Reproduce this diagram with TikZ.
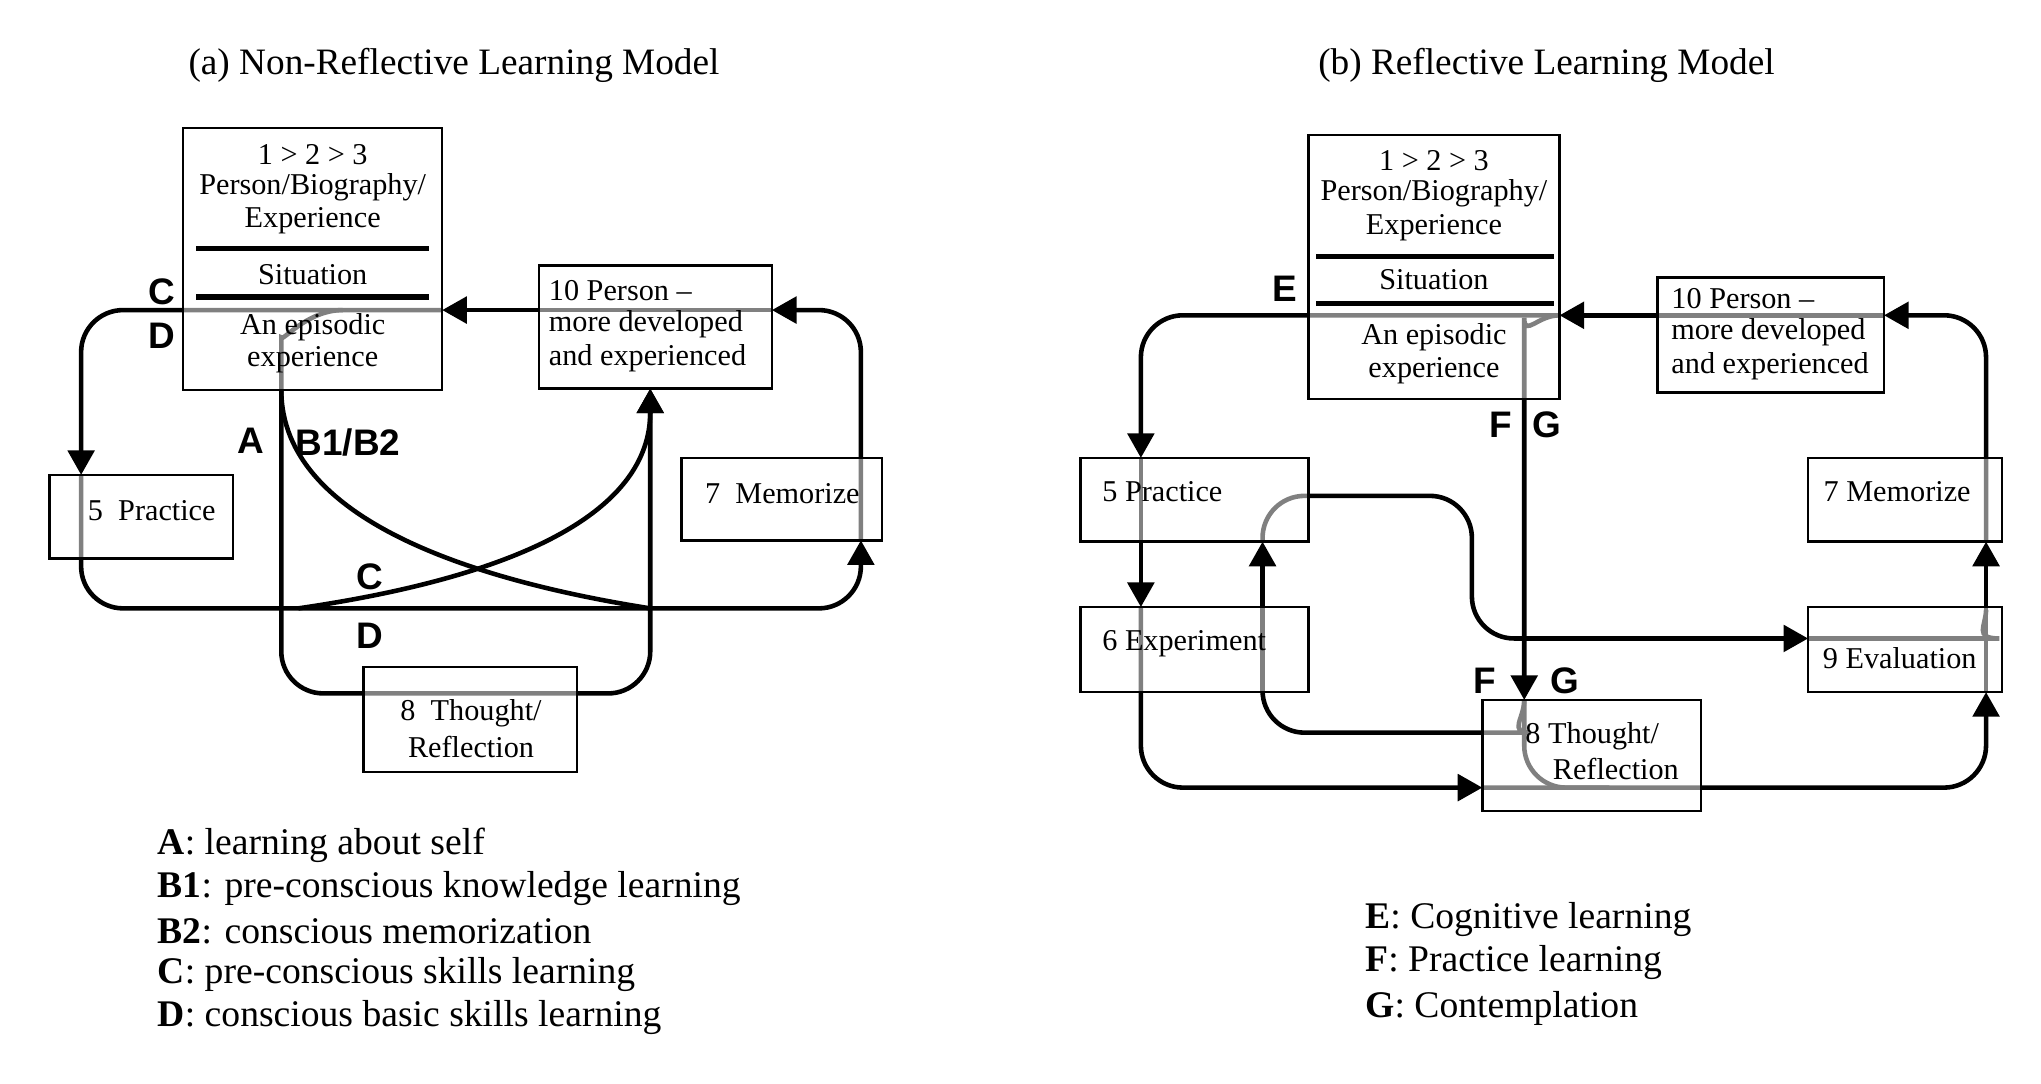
\documentclass[tikz,border=0pt]{standalone}
\usepackage{fontspec}
\setmainfont{Liberation Serif}
\newfontfamily\lab{Liberation Sans}
\usetikzlibrary{arrows.meta,fit}
\begin{document}
\begin{tikzpicture}[x=0.013083cm,y=-0.013083cm,
  box/.style={draw,line width=0.7pt,inner sep=0pt},
  bt/.style={font=\fontsize{8.6}{9.7}\selectfont,inner sep=0pt},
  lt/.style={font=\lab\bfseries\fontsize{10.5}{12}\selectfont,inner sep=0pt},
  leg/.style={font=\fontsize{10.7}{12.3}\selectfont,inner sep=0pt,anchor=west},
  con/.style={line width=1.3pt,rounded corners=0.42cm},
  tip/.style={-{Triangle[length=7pt,width=7.5pt]}}]
\useasboundingbox (0,0) rectangle (1560,828);
\def\boxes{(140,98) rectangle (338,298) (412,203) rectangle (590,297)
  (38,363) rectangle (178,427) (521,350) rectangle (674,413)
  (278,510) rectangle (441,590)
  (1000,103) rectangle (1192,305) (1267,212) rectangle (1440,300)
  (826,350) rectangle (1000,414) (826,464) rectangle (1000,529)
  (1382,350) rectangle (1530,414) (1382,464) rectangle (1530,529)
  (1133,535) rectangle (1300,620)}
\def\allpaths{
 % left
 \draw[con,tip] (590,237) -- (338,237);
 \draw[con,tip] (338,237) -- (62,237) -- (62,363);
 \draw[con,tip] (62,363) -- (62,465) -- (658,465) -- (658,413);
 \draw[con,tip] (658,413) -- (658,237) -- (590,237);
 \draw[con,tip] (262,237) to[out=180,in=90] (215,290) -- (215,530) -- (497,530) -- (497,297);
 \draw[con] (215,298) .. controls (215,400) and (370,445) .. (497,465);
 \draw[con,tip] (228,465) .. controls (400,440) and (497,390) .. (497,297);
 % right
 \draw[con,tip] (1440,241) -- (1192,241);
 \draw[con,tip] (1192,241) -- (872,241) -- (872,350);
 \draw[con,tip] (872,350) -- (872,464);
 \draw[con,tip] (872,464) -- (872,602) -- (1133,602);
 \draw[con,tip] (1133,602) -- (1518,602) -- (1518,529);
 \draw[con,tip] (1518,529) -- (1518,414);
 \draw[con,tip] (1518,414) -- (1518,241) -- (1440,241);
 \draw[con,tip] (1192,241) to[out=180,in=90] (1165,275) -- (1165,535);
 \draw[con,tip] (1165,535) to[out=-90,in=0] (1138,560) -- (965,560) -- (965,529);
 \draw[con,tip] (965,529) -- (965,414);
 \draw[con,tip] (965,414) -- (965,379) -- (1125,379) -- (1125,488) -- (1382,488);
 \draw[con] (1382,488) -- (1496,488) to[out=0,in=-90] (1518,466);
 \draw[con] (1165,535) -- (1165,602) -- (1230,602);
}
\allpaths
\fill[white] \boxes;
\begin{scope}
 \clip \boxes;
 \tikzset{tip/.style={},con/.append style={black!50}}
 \allpaths
\end{scope}
% boxes
\node[box,fit={(140,98) (338,298)}] (topL) {};
\node[box,fit={(412,203) (590,297)}] (tenL) {};
\node[box,fit={(38,363) (178,427)}] (fiveL) {};
\node[box,fit={(521,350) (674,413)}] (sevenL) {};
\node[box,fit={(278,510) (441,590)}] (eightL) {};
\node[box,fit={(1000,103) (1192,305)}] (topR) {};
\node[box,fit={(1267,212) (1440,300)}] (tenR) {};
\node[box,fit={(826,350) (1000,414)}] (fiveR) {};
\node[box,fit={(826,464) (1000,529)}] (sixR) {};
\node[box,fit={(1382,350) (1530,414)}] (sevenR) {};
\node[box,fit={(1382,464) (1530,529)}] (nineR) {};
\node[box,fit={(1133,535) (1300,620)}] (eightR) {};
\draw[line width=1.6pt] (150,190) -- (328,190) (150,227) -- (328,227);
\draw[line width=1.6pt] (1006,196) -- (1188,196) (1006,232) -- (1188,232);
% titles
\node[font=\fontsize{10.6}{12}\selectfont] (tA) at (347,50) {(a) Non-Reflective Learning Model};
\node[font=\fontsize{10.6}{12}\selectfont] (tB) at (1182,50) {(b) Reflective Learning Model};
% texts left
\node[bt] at (239,118) {1 > 2 > 3};
\node[bt] at (239,143) {Person/Biography/};
\node[bt] at (239,169) {Experience};
\node[bt] at (239,210) {Situation};
\node[bt] at (239,250) {An episodic};
\node[bt] at (239,275) {experience};
\node[bt,anchor=west] at (419,222) {10 Person --};
\node[bt,anchor=west] at (419,248) {more developed};
\node[bt,anchor=west] at (419,274) {and experienced};
\node[bt] at (116,390) {5\ \ Practice};
\node[bt] at (598,377) {7\ \ Memorize};
\node[bt] at (360,545) {8\ \ Thought/};
\node[bt] at (360,571) {Reflection};
% texts right
\node[bt] at (1096,123) {1 > 2 > 3};
\node[bt] at (1096,148) {Person/Biography/};
\node[bt] at (1096,174) {Experience};
\node[bt] at (1096,214) {Situation};
\node[bt] at (1096,258) {An episodic};
\node[bt] at (1096,283) {experience};
\node[bt,anchor=west] at (1277,228) {10 Person --};
\node[bt,anchor=west] at (1277,254) {more developed};
\node[bt,anchor=west] at (1277,280) {and experienced};
\node[bt,anchor=west] at (842,376) {5 Practice};
\node[bt,anchor=west] at (842,492) {6 Experiment};
\node[bt] at (1450,376) {7 Memorize};
\node[bt] at (1452,503) {9 Evaluation};
\node[bt] at (1217,563) {8 Thought/};
\node[bt] at (1235,588) {Reflection};
% path labels
\node[lt] at (124,223) {C};
\node[lt] at (124,257) {D};
\node[lt] at (192,337) {A};
\node[lt] at (266,338) {B1/B2};
\node[lt] at (283,441) {C};
\node[lt] at (283,486) {D};
\node[lt] at (982,221) {E};
\node[lt] at (1147,325) {F};
\node[lt] at (1182,325) {G};
\node[lt] at (1135,520) {F};
\node[lt] at (1196,520) {G};
% legends
\node[leg] at (120,646) {\textbf{A}: learning about self};
\node[leg] at (120,679) {\textbf{B1}: pre-conscious knowledge learning};
\node[leg] at (120,712) {\textbf{B2}: conscious memorization};
\node[leg] at (120,745) {\textbf{C}: pre-conscious skills learning};
\node[leg] at (120,778) {\textbf{D}: conscious basic skills learning};
\node[leg] at (1043,703) {\textbf{E}: Cognitive learning};
\node[leg] at (1043,736) {\textbf{F}: Practice learning};
\node[leg] at (1043,771) {\textbf{G}: Contemplation};
\end{tikzpicture}
\end{document}
